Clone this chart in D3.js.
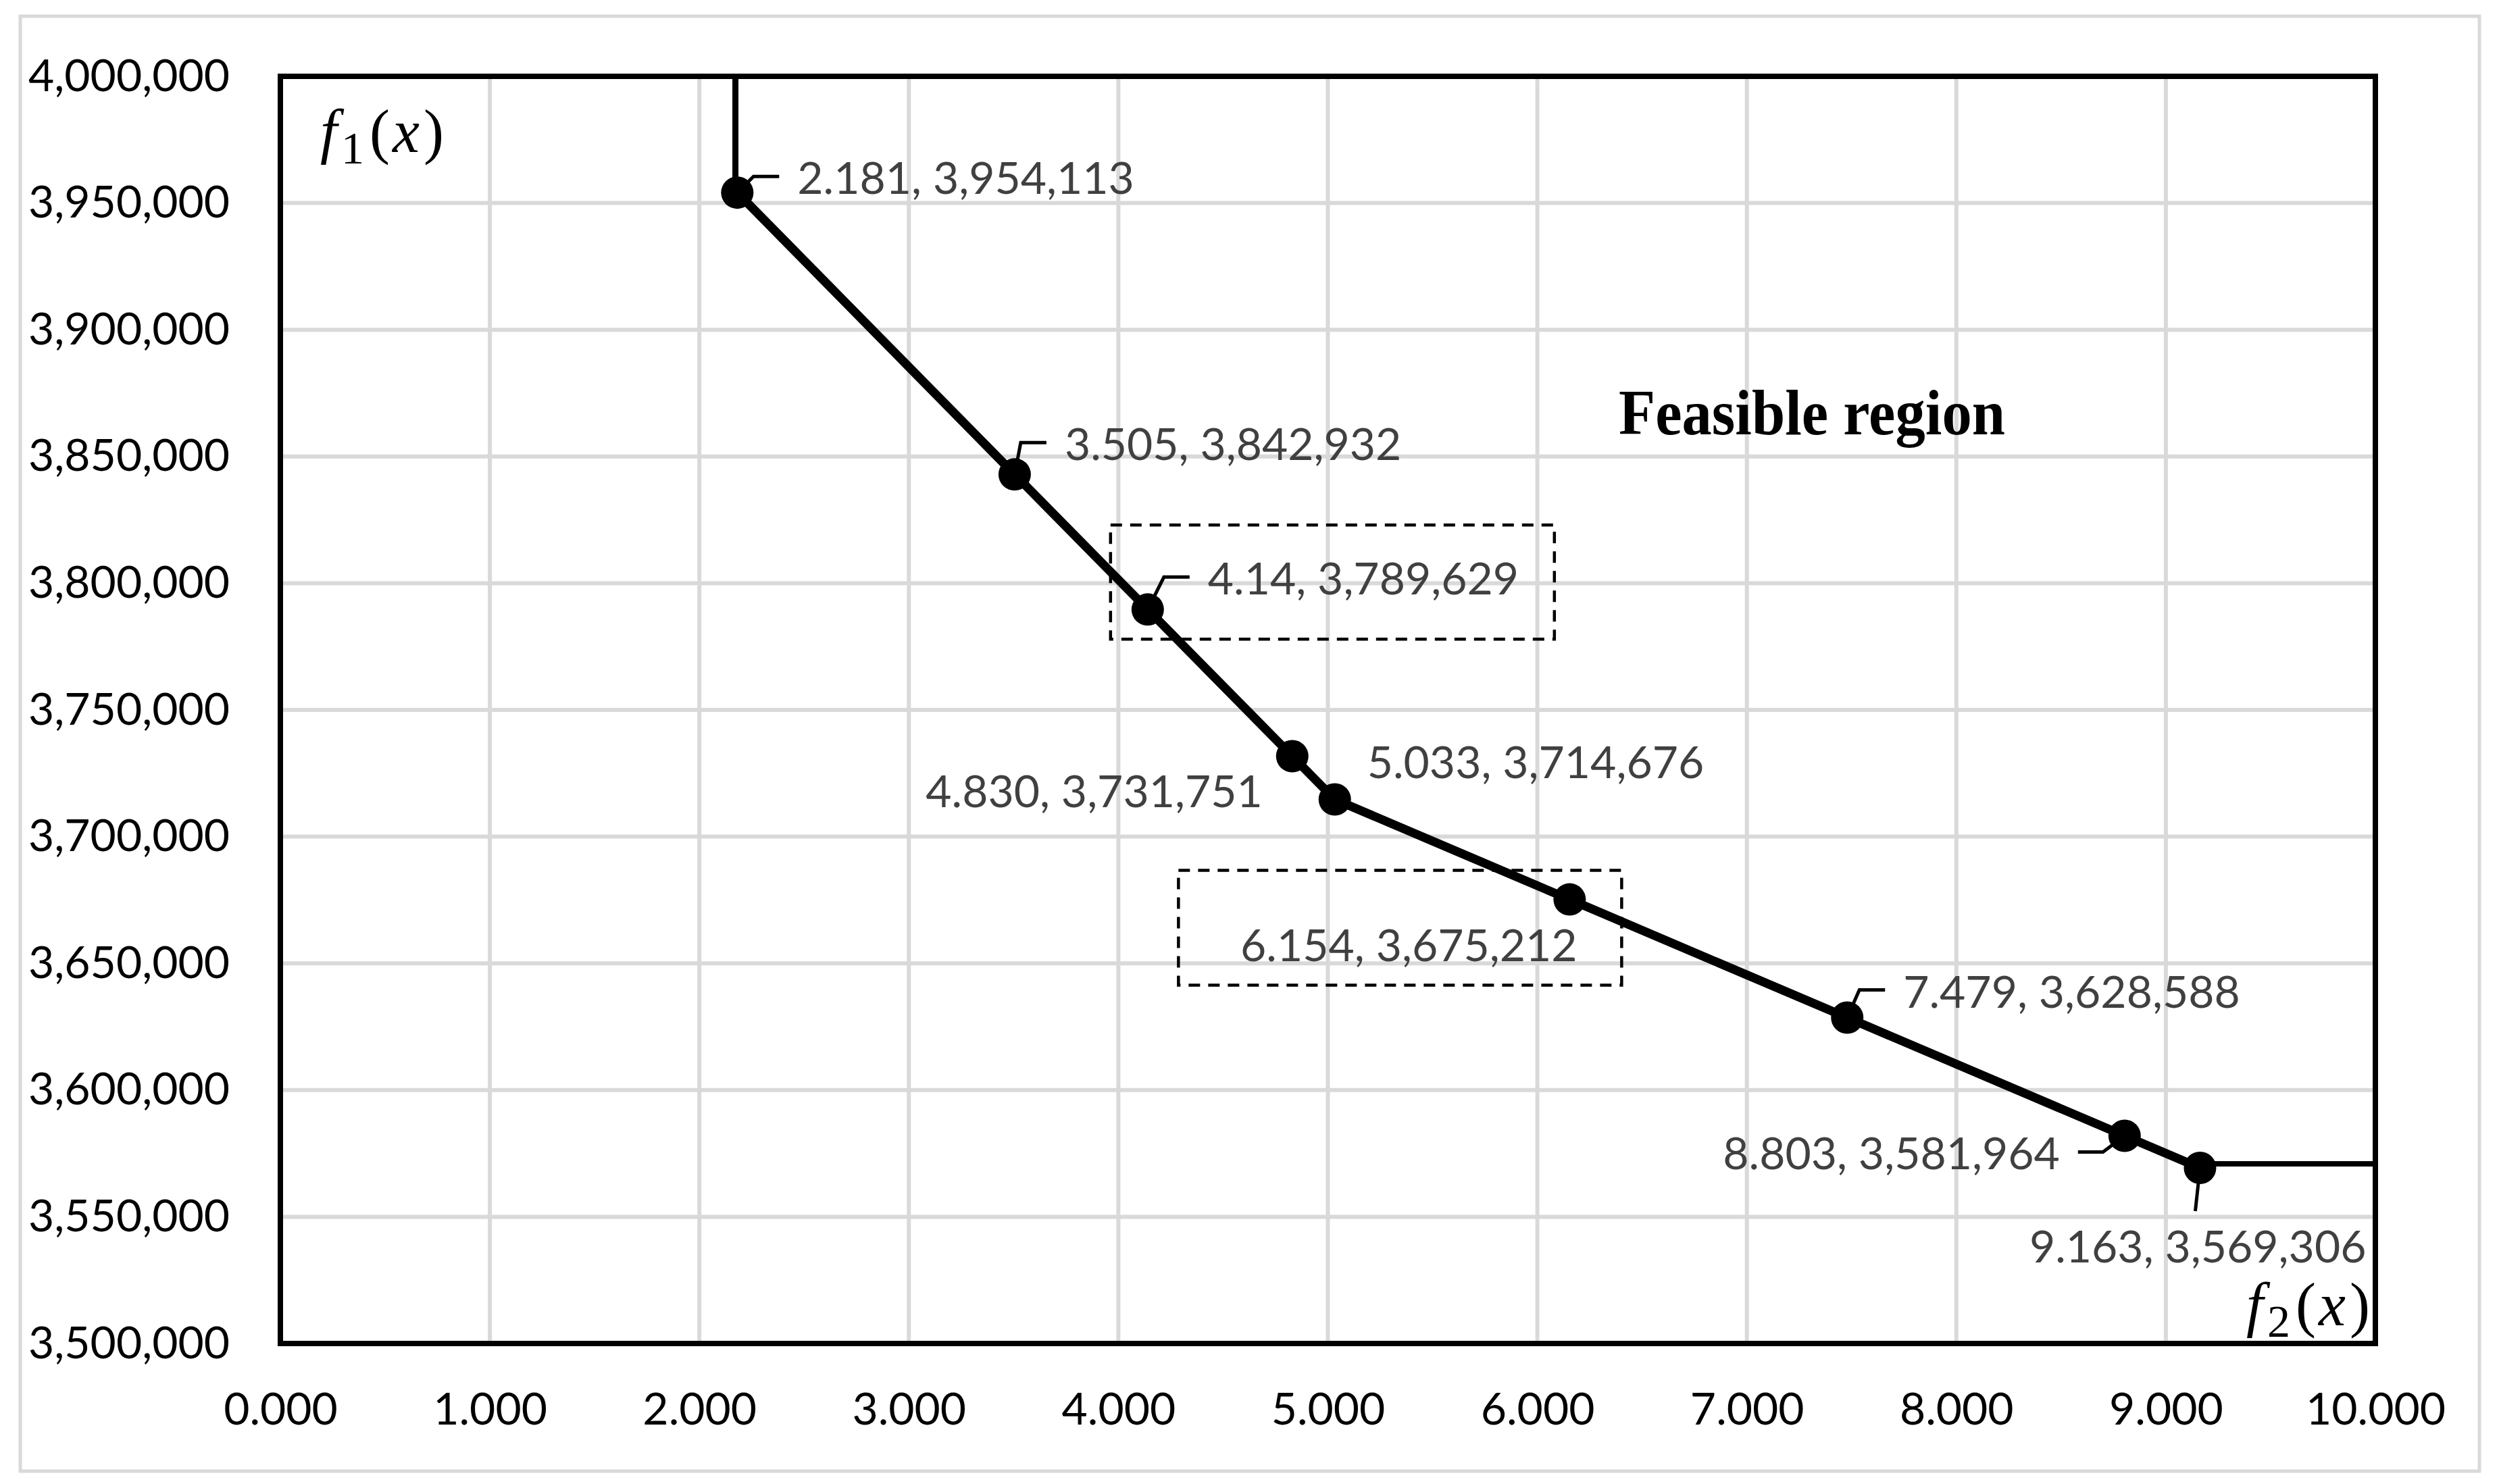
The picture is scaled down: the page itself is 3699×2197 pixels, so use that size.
<!DOCTYPE html>
<html>
<head>
<meta charset="utf-8">
<script src="https://cdn.jsdelivr.net/npm/d3@7/dist/d3.min.js"></script>
<style>
  html, body { margin: 0; padding: 0; background: #fff; }
  svg { display: block; }
</style>
</head>
<body>
<svg id="chart" width="3699" height="2197"></svg>
<script>
// ---------------- DATA ----------------
const f2Values = [2.181, 3.505, 4.14, 4.830, 5.033, 6.154, 7.479, 8.803, 9.163];
const f1Values = [3954113, 3842932, 3789629, 3731751, 3714676, 3675212, 3628588, 3581964, 3569306];
const pointLabels = ["2.181, 3,954,113", "3.505, 3,842,932", "4.14, 3,789,629", "4.830, 3,731,751",
                     "5.033, 3,714,676", "6.154, 3,675,212", "7.479, 3,628,588", "8.803, 3,581,964",
                     "9.163, 3,569,306"];
// boundary extensions of the Pareto front
const topBoundaryF2 = [2.172, 2.172];
const topBoundaryF1 = [4000000, 3954113];
const rightBoundaryF2 = [9.163, 10];
const rightBoundaryF1 = [3570900, 3570900];
const xTicks = [0, 1, 2, 3, 4, 5, 6, 7, 8, 9, 10];
const yTicks = [3500000, 3550000, 3600000, 3650000, 3700000, 3750000, 3800000, 3850000, 3900000, 3950000, 4000000];
const boxedLabels = [2, 5];
const regionText = "Feasible region";

// ---------------- LAYOUT / STYLE ----------------
const W = 3699, H = 2197;
const plot = { left: 415, right: 3516, top: 113, bottom: 1989 };
const tickFont = "Lato, 'Open Sans', sans-serif";
const tickSize = 66;
// label placement (pixel offsets from the marker)
const labelPlace = [
  { anchor: "start", dx: 89,  dy: 2,   leader: "right" },
  { anchor: "start", dx: 74,  dy: -21, leader: "right" },
  { anchor: "start", dx: 89,  dy: -22, leader: "right" },
  { anchor: "end",   dx: -44, dy: 76,  leader: "none" },
  { anchor: "start", dx: 48,  dy: -32, leader: "none" },
  { anchor: "middle",dx: -238,dy: 91,  leader: "none" },
  { anchor: "start", dx: 83,  dy: -15, leader: "right" },
  { anchor: "end",   dx: -96, dy: 50,  leader: "left" },
  { anchor: "end",   dx: 246, dy: 140, leader: "down" }
];
const boxPlace = { 2: { x0: -55, x1: 602, y0: -125, y1: 44 }, 5: { x0: -579, x1: 77, y0: -43, y1: 127 } };

const svg = d3.select("#chart");
const x = d3.scaleLinear().domain([0, 10]).range([plot.left, plot.right]);
const y = d3.scaleLinear().domain([3500000, 4000000]).range([plot.bottom, plot.top]);

// outer frame
svg.append("rect").attr("x", 30).attr("y", 24).attr("width", 3640).attr("height", 2154)
  .attr("fill", "#fff").attr("stroke", "#d9d9d9").attr("stroke-width", 5);

// gridlines
const grid = svg.append("g").attr("stroke", "#d9d9d9").attr("stroke-width", 6);
grid.selectAll("line.v").data(xTicks).join("line").attr("class", "v")
  .attr("x1", d => x(d)).attr("x2", d => x(d)).attr("y1", plot.top).attr("y2", plot.bottom);
grid.selectAll("line.h").data(yTicks).join("line").attr("class", "h")
  .attr("y1", d => y(d)).attr("y2", d => y(d)).attr("x1", plot.left).attr("x2", plot.right);

// axes
const yAxis = d3.axisLeft(y).tickValues(yTicks).tickFormat(d3.format(",")).tickSize(0).tickPadding(75);
const gy = svg.append("g").attr("transform", `translate(${plot.left},0)`).call(yAxis);
const xAxis = d3.axisBottom(x).tickValues(xTicks).tickFormat(d3.format(".3f")).tickSize(0).tickPadding(73);
const gx = svg.append("g").attr("transform", `translate(0,${plot.bottom})`).call(xAxis);
[gx, gy].forEach(g => {
  g.select(".domain").remove();
  g.selectAll("text").attr("font-family", tickFont).attr("font-size", tickSize).attr("fill", "#000");
});

// boundary lines
const lineGen = d3.line().x(d => x(d[0])).y(d => y(d[1]));
svg.append("path").datum(topBoundaryF2.map((v, i) => [v, topBoundaryF1[i]]))
  .attr("d", lineGen).attr("fill", "none").attr("stroke", "#000").attr("stroke-width", 9);
svg.append("path").datum(rightBoundaryF2.map((v, i) => [v, rightBoundaryF1[i]]))
  .attr("d", lineGen).attr("fill", "none").attr("stroke", "#000").attr("stroke-width", 8);

// pareto curve
const pts = f2Values.map((v, i) => [v, f1Values[i]]);
svg.append("path").datum(pts).attr("d", lineGen).attr("fill", "none")
  .attr("stroke", "#000").attr("stroke-width", 13).attr("stroke-linejoin", "round");

// leader lines
const leaders = svg.append("g").attr("fill", "none").attr("stroke", "#000").attr("stroke-width", 5);
pts.forEach((p, i) => {
  const lp = labelPlace[i];
  const px = x(p[0]), py = y(p[1]);
  const base = py + lp.dy;
  const mid = base - 26;
  let path = null;
  if (lp.leader === "right") {
    const left = px + lp.dx;
    path = [[px, py], [left - 65, mid], [left - 27, mid]];
  } else if (lp.leader === "left") {
    const right = px + lp.dx;
    path = [[px, py], [right + 64, mid], [right + 27, mid]];
  } else if (lp.leader === "down") {
    path = [[px, py], [px - 7, py + 64]];
  }
  if (path) leaders.append("path").attr("d", d3.line()(path));
});

// markers
svg.append("g").selectAll("circle").data(pts).join("circle")
  .attr("cx", d => x(d[0])).attr("cy", d => y(d[1])).attr("r", 24).attr("fill", "#000");

// data labels
svg.append("g").selectAll("text").data(pts).join("text")
  .attr("x", (d, i) => x(d[0]) + labelPlace[i].dx)
  .attr("y", (d, i) => y(d[1]) + labelPlace[i].dy)
  .attr("text-anchor", (d, i) => labelPlace[i].anchor)
  .attr("font-family", tickFont).attr("font-size", tickSize).attr("fill", "#404040")
  .text((d, i) => pointLabels[i]);

// dashed boxes
boxedLabels.forEach(i => {
  const b = boxPlace[i];
  const px = x(pts[i][0]), py = y(pts[i][1]);
  svg.append("rect").attr("x", px + b.x0).attr("y", py + b.y0)
    .attr("width", b.x1 - b.x0).attr("height", b.y1 - b.y0)
    .attr("fill", "none").attr("stroke", "#000").attr("stroke-width", 4.5)
    .attr("stroke-dasharray", "17 12");
});

// region text
svg.append("text").attr("x", 2396).attr("y", 643)
  .attr("font-family", "'Liberation Serif', 'Times New Roman', serif").attr("font-weight", "bold")
  .attr("font-size", 96).attr("textLength", 572).attr("lengthAdjust", "spacingAndGlyphs")
  .attr("fill", "#000").text(regionText);

// axis titles (math style), laid out left to right
function mathLabel(tx, ty, sub, alignRight) {
  const t = svg.append("text").attr("x", 0).attr("y", ty)
    .attr("font-family", "'Liberation Serif', 'Times New Roman', serif").attr("font-size", 90).attr("fill", "#000");
  t.append("tspan").attr("font-style", "italic").text("f");
  t.append("tspan").attr("font-size", 68).attr("dy", 17).attr("dx", 6).text(sub);
  t.append("tspan").attr("dy", -17).attr("dx", 8).text("(");
  t.append("tspan").attr("font-style", "italic").attr("dx", 4).text("x");
  t.append("tspan").attr("dx", 6).text(")");
  const w = t.node().getBBox().width;
  t.attr("x", alignRight ? tx - w : tx);
}
mathLabel(474, 225, "1", false);
mathLabel(3508, 1962, "2", true);

// plot border
svg.append("rect").attr("x", plot.left).attr("y", plot.top)
  .attr("width", plot.right - plot.left).attr("height", plot.bottom - plot.top)
  .attr("fill", "none").attr("stroke", "#000").attr("stroke-width", 8);
</script>
</body>
</html>
